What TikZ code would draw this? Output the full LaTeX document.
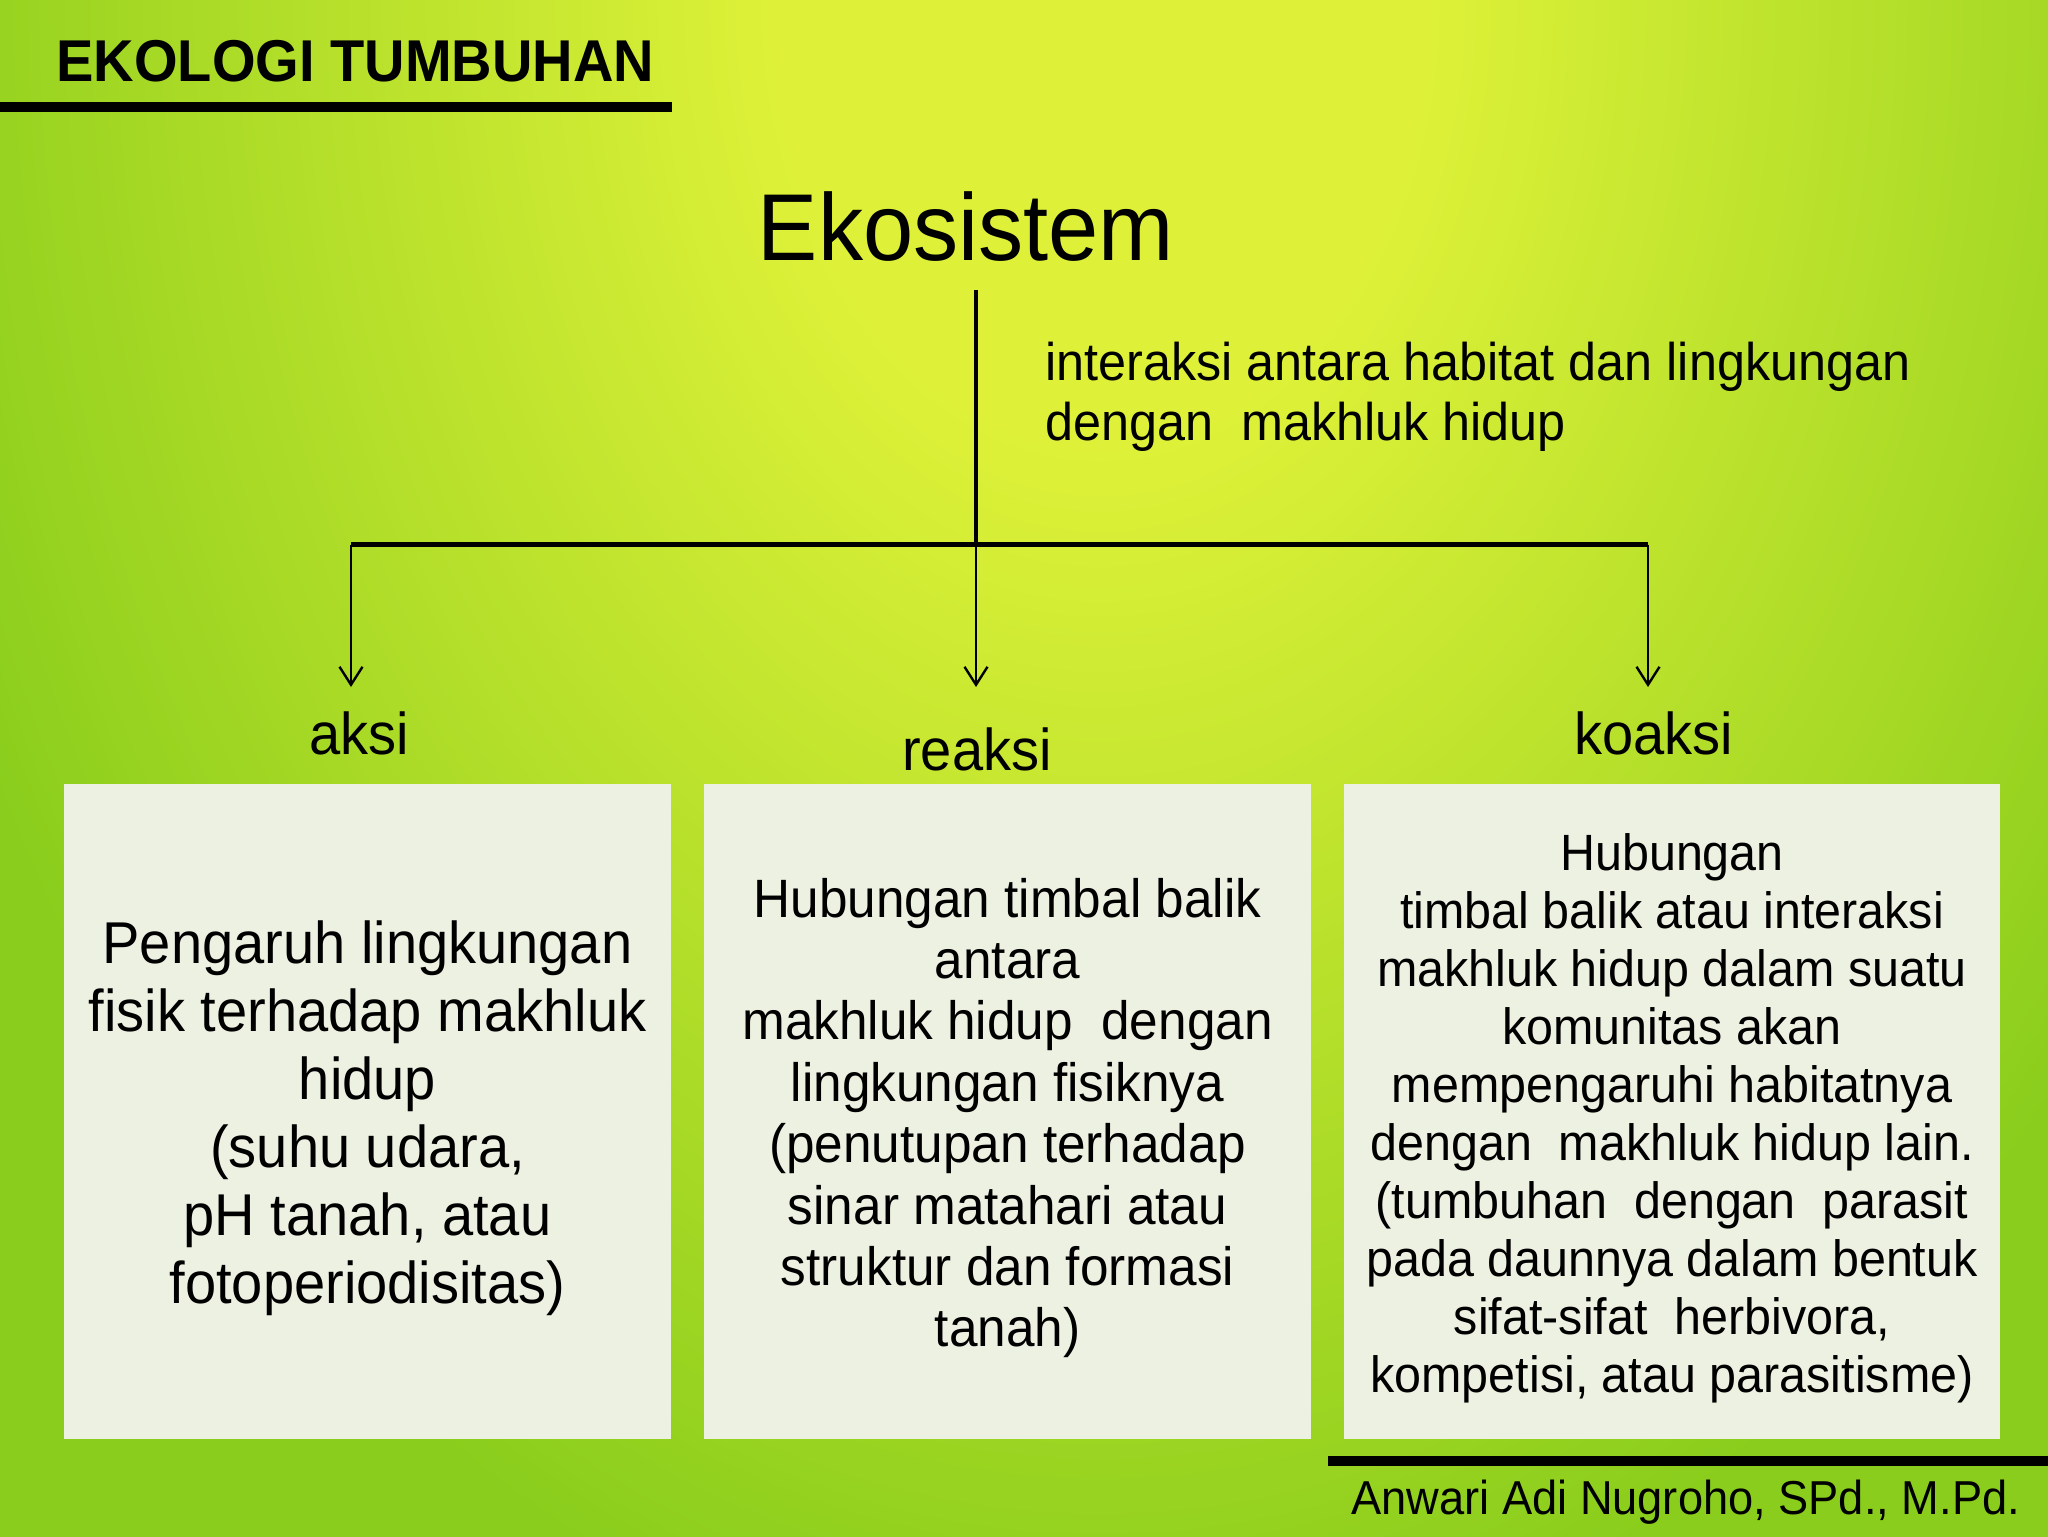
\documentclass[tikz,border=0pt]{standalone}
\usepackage{fontspec}
\setmainfont[FakeStretch=0.95]{Liberation Sans}
\usetikzlibrary{arrows.meta}
\definecolor{bgA}{RGB}{222,241,56}
\definecolor{bgB}{RGB}{138,205,28}
\definecolor{boxfill}{RGB}{236,241,225}
\pgfdeclareradialshading{bgshade}{\pgfpoint{0bp}{0bp}}{color(0bp)=(bgA); color(13bp)=(bgA); color(50bp)=(bgB); color(100bp)=(bgB)}
\tikzset{
  trunk/.style={line width=2.4pt},
  arr/.style={line width=1.2pt, -{Straight Barb[length=9pt,width=11.5pt,line width=1.2pt]}},
  lab/.style={anchor=base, inner sep=0pt, font=\fontsize{29.5}{34}\selectfont},
  infobox/.style={fill=boxfill, draw=none, inner sep=0pt, align=center, minimum height=327.5pt},
}
\begin{document}
\begin{tikzpicture}[x=0.5pt,y=-0.5pt]
\useasboundingbox (0,0) rectangle (2048,1536);
\begin{scope}
  \clip (0,0) rectangle (2048,1536);
  \fill[bgB] (0,0) rectangle (2048,1536);
  \begin{pgfscope}
    \pgflowlevel{\pgftransformshift{\pgfpoint{550pt}{0pt}}}
    \pgflowlevel{\pgftransformxscale{12.5}}
    \pgflowlevel{\pgftransformyscale{17}}
    \pgfuseshading{bgshade}
  \end{pgfscope}
\end{scope}

% title
\node[anchor=base west, inner sep=0pt, font=\fontsize{29.5}{34}\selectfont\bfseries] (title) at (56,82) {EKOLOGI TUMBUHAN};
\fill (0,102) rectangle (672,112);

% root
\node[anchor=base, inner sep=0pt, font=\fontsize{47.5}{52}\selectfont] (eko) at (966,260) {Ekosistem};
\node[anchor=base west, inner sep=0pt, align=left, font=\fontsize{26.5}{30}\selectfont] (desc) at (1045,440) {interaksi antara habitat dan lingkungan\\dengan~ makhluk hidup};

% connectors
\coordinate (t0) at (976,290);
\coordinate (j) at (976,544.5);
\coordinate (jl) at (351,544.5);
\coordinate (jr) at (1648,544.5);
\coordinate (e1) at (351,687);
\coordinate (e2) at (976,687);
\coordinate (e3) at (1648,687);
\draw[trunk] (t0) -- (j);
\draw[trunk] (jl) -- (jr);
\draw[arr] (jl) -- (e1);
\draw[arr] (j) -- (e2);
\draw[arr] (jr) -- (e3);

% labels
\node[lab] (aksi) at (359,754) {aksi};
\node[lab] (reaksi) at (977,770) {reaksi};
\node[lab] (koaksi) at (1654,754) {koaksi};

% boxes
\node[infobox, minimum width=303.5pt, font=\fontsize{29.5}{34}\selectfont] (b1) at (367.5,1111.5)
  {\rule{0pt}{28pt}Pengaruh lingkungan\\fisik terhadap makhluk\\hidup\\(suhu udara,\\pH tanah, atau\\fotoperiodisitas)};
\node[infobox, minimum width=303.5pt, font=\fontsize{27}{30.7}\selectfont] (b2) at (1007.5,1111.5)
  {\rule{0pt}{26pt}Hubungan timbal balik\\antara\\makhluk hidup~ dengan\\lingkungan fisiknya\\(penutupan terhadap\\sinar matahari atau\\struktur dan formasi\\tanah)};
\node[infobox, minimum width=328pt, font=\fontsize{25.5}{29}\selectfont] (b3) at (1672,1111.5)
  {\rule{0pt}{25pt}Hubungan\\timbal balik atau interaksi\\makhluk hidup dalam suatu\\komunitas akan\\mempengaruhi habitatnya\\dengan~ makhluk hidup lain.\\(tumbuhan~ dengan~ parasit\\pada daunnya dalam bentuk\\sifat-sifat~ herbivora,\\kompetisi, atau parasitisme)};

% footer
\fill (1328,1456) rectangle (2048,1466);
\node[anchor=base west, inner sep=0pt, font=\fontsize{23.8}{28}\selectfont] (author) at (1351,1514) {Anwari Adi Nugroho, SPd., M.Pd.};
\end{tikzpicture}
\end{document}
